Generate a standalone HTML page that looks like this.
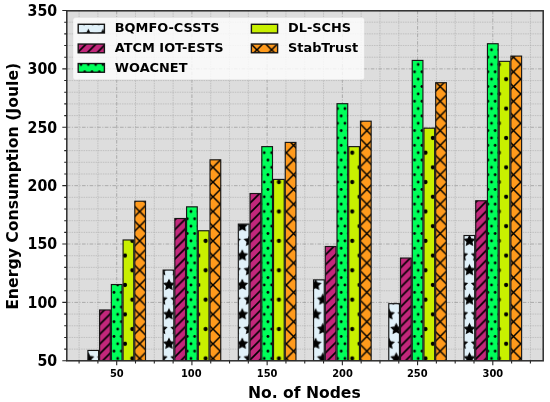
<!DOCTYPE html><html><head><meta charset="utf-8"><title>Energy Consumption</title>
<style>html,body{margin:0;padding:0;background:#fff}svg{display:block}text{font-family:"DejaVu Sans","Liberation Sans",sans-serif;font-weight:bold;fill:#000}</style></head><body>
<svg width="550" height="402" viewBox="0 0 550 402">
<defs>
<pattern id="h0" patternUnits="userSpaceOnUse" x="491.50" y="49.80" width="14.660" height="29.400"><path d="M0.00 -4.89 L-1.44 -1.98 L-4.65 -1.51 L-2.32 0.76 L-2.87 3.95 L-0.00 2.44 L2.87 3.95 L2.32 0.76 L4.65 -1.51 L1.44 -1.98Z" fill="#000" stroke="#000" stroke-width="1.3" stroke-linejoin="miter"/><path d="M14.66 -4.89 L13.22 -1.98 L10.01 -1.51 L12.34 0.76 L11.79 3.95 L14.66 2.44 L17.53 3.95 L16.98 0.76 L19.31 -1.51 L16.10 -1.98Z" fill="#000" stroke="#000" stroke-width="1.3" stroke-linejoin="miter"/><path d="M0.00 24.51 L-1.44 27.42 L-4.65 27.89 L-2.32 30.16 L-2.87 33.35 L-0.00 31.84 L2.87 33.35 L2.32 30.16 L4.65 27.89 L1.44 27.42Z" fill="#000" stroke="#000" stroke-width="1.3" stroke-linejoin="miter"/><path d="M14.66 24.51 L13.22 27.42 L10.01 27.89 L12.34 30.16 L11.79 33.35 L14.66 31.84 L17.53 33.35 L16.98 30.16 L19.31 27.89 L16.10 27.42Z" fill="#000" stroke="#000" stroke-width="1.3" stroke-linejoin="miter"/><path d="M7.33 9.81 L5.89 12.72 L2.68 13.19 L5.01 15.46 L4.46 18.65 L7.33 17.14 L10.20 18.65 L9.65 15.46 L11.98 13.19 L8.77 12.72Z" fill="#000" stroke="#000" stroke-width="1.3" stroke-linejoin="miter"/></pattern>
<pattern id="h1" patternUnits="userSpaceOnUse" x="491.50" y="49.20" width="9.773" height="9.800"><path d="M-9.773 9.800L9.773 -9.800M-9.773 19.600L19.547 -9.800M0 19.600L19.547 0" stroke="#000" stroke-width="1.65" fill="none"/></pattern>
<pattern id="h2" patternUnits="userSpaceOnUse" x="491.50" y="49.80" width="7.330" height="14.700"><circle cx="0.000" cy="0.000" r="1.38" fill="#000"/><circle cx="7.330" cy="0.000" r="1.38" fill="#000"/><circle cx="0.000" cy="14.700" r="1.38" fill="#000"/><circle cx="7.330" cy="14.700" r="1.38" fill="#000"/><circle cx="3.665" cy="7.350" r="1.38" fill="#000"/></pattern>
<pattern id="h3" patternUnits="userSpaceOnUse" x="491.50" y="49.80" width="14.660" height="29.400"><circle cx="0.000" cy="0.000" r="2.10" fill="#000"/><circle cx="14.660" cy="0.000" r="2.10" fill="#000"/><circle cx="0.000" cy="29.400" r="2.10" fill="#000"/><circle cx="14.660" cy="29.400" r="2.10" fill="#000"/><circle cx="7.330" cy="14.700" r="2.10" fill="#000"/></pattern>
<pattern id="h4" patternUnits="userSpaceOnUse" x="491.50" y="49.80" width="14.660" height="14.700"><path d="M-14.660 -14.700L29.320 29.400M-14.660 29.400L29.320 -14.700" stroke="#000" stroke-width="1.5" fill="none"/></pattern>
<clipPath id="ax"><rect x="66.8" y="10.8" width="476.40000000000003" height="350.0"/></clipPath>
</defs>
<rect width="550" height="402" fill="#fff"/>
<rect x="66.8" y="10.8" width="476.40000000000003" height="350.0" fill="#dddddd"/>
<g fill="none"><path d="M79.09 10.8V360.8" stroke="#adadad" stroke-width="0.6" stroke-dasharray="1.5 0.9"/><path d="M97.90 10.8V360.8" stroke="#adadad" stroke-width="0.6" stroke-dasharray="1.5 0.9"/><path d="M116.70 10.8V360.8" stroke="#8a8a8a" stroke-width="0.6" stroke-dasharray="3.6 1.5 1 1.5"/><path d="M135.50 10.8V360.8" stroke="#adadad" stroke-width="0.6" stroke-dasharray="1.5 0.9"/><path d="M154.31 10.8V360.8" stroke="#adadad" stroke-width="0.6" stroke-dasharray="1.5 0.9"/><path d="M173.12 10.8V360.8" stroke="#adadad" stroke-width="0.6" stroke-dasharray="1.5 0.9"/><path d="M191.92 10.8V360.8" stroke="#8a8a8a" stroke-width="0.6" stroke-dasharray="3.6 1.5 1 1.5"/><path d="M210.73 10.8V360.8" stroke="#adadad" stroke-width="0.6" stroke-dasharray="1.5 0.9"/><path d="M229.53 10.8V360.8" stroke="#adadad" stroke-width="0.6" stroke-dasharray="1.5 0.9"/><path d="M248.33 10.8V360.8" stroke="#adadad" stroke-width="0.6" stroke-dasharray="1.5 0.9"/><path d="M267.14 10.8V360.8" stroke="#8a8a8a" stroke-width="0.6" stroke-dasharray="3.6 1.5 1 1.5"/><path d="M285.94 10.8V360.8" stroke="#adadad" stroke-width="0.6" stroke-dasharray="1.5 0.9"/><path d="M304.75 10.8V360.8" stroke="#adadad" stroke-width="0.6" stroke-dasharray="1.5 0.9"/><path d="M323.56 10.8V360.8" stroke="#adadad" stroke-width="0.6" stroke-dasharray="1.5 0.9"/><path d="M342.36 10.8V360.8" stroke="#8a8a8a" stroke-width="0.6" stroke-dasharray="3.6 1.5 1 1.5"/><path d="M361.17 10.8V360.8" stroke="#adadad" stroke-width="0.6" stroke-dasharray="1.5 0.9"/><path d="M379.97 10.8V360.8" stroke="#adadad" stroke-width="0.6" stroke-dasharray="1.5 0.9"/><path d="M398.77 10.8V360.8" stroke="#adadad" stroke-width="0.6" stroke-dasharray="1.5 0.9"/><path d="M417.58 10.8V360.8" stroke="#8a8a8a" stroke-width="0.6" stroke-dasharray="3.6 1.5 1 1.5"/><path d="M436.38 10.8V360.8" stroke="#adadad" stroke-width="0.6" stroke-dasharray="1.5 0.9"/><path d="M455.19 10.8V360.8" stroke="#adadad" stroke-width="0.6" stroke-dasharray="1.5 0.9"/><path d="M474.00 10.8V360.8" stroke="#adadad" stroke-width="0.6" stroke-dasharray="1.5 0.9"/><path d="M492.80 10.8V360.8" stroke="#8a8a8a" stroke-width="0.6" stroke-dasharray="3.6 1.5 1 1.5"/><path d="M511.60 10.8V360.8" stroke="#adadad" stroke-width="0.6" stroke-dasharray="1.5 0.9"/><path d="M530.41 10.8V360.8" stroke="#adadad" stroke-width="0.6" stroke-dasharray="1.5 0.9"/><path d="M66.8 349.12H543.2" stroke="#adadad" stroke-width="0.6" stroke-dasharray="1.5 0.9"/><path d="M66.8 337.45H543.2" stroke="#adadad" stroke-width="0.6" stroke-dasharray="1.5 0.9"/><path d="M66.8 325.77H543.2" stroke="#adadad" stroke-width="0.6" stroke-dasharray="1.5 0.9"/><path d="M66.8 314.09H543.2" stroke="#adadad" stroke-width="0.6" stroke-dasharray="1.5 0.9"/><path d="M66.8 302.42H543.2" stroke="#8a8a8a" stroke-width="0.6" stroke-dasharray="3.6 1.5 1 1.5"/><path d="M66.8 290.74H543.2" stroke="#adadad" stroke-width="0.6" stroke-dasharray="1.5 0.9"/><path d="M66.8 279.06H543.2" stroke="#adadad" stroke-width="0.6" stroke-dasharray="1.5 0.9"/><path d="M66.8 267.39H543.2" stroke="#adadad" stroke-width="0.6" stroke-dasharray="1.5 0.9"/><path d="M66.8 255.71H543.2" stroke="#adadad" stroke-width="0.6" stroke-dasharray="1.5 0.9"/><path d="M66.8 244.03H543.2" stroke="#8a8a8a" stroke-width="0.6" stroke-dasharray="3.6 1.5 1 1.5"/><path d="M66.8 232.36H543.2" stroke="#adadad" stroke-width="0.6" stroke-dasharray="1.5 0.9"/><path d="M66.8 220.68H543.2" stroke="#adadad" stroke-width="0.6" stroke-dasharray="1.5 0.9"/><path d="M66.8 209.00H543.2" stroke="#adadad" stroke-width="0.6" stroke-dasharray="1.5 0.9"/><path d="M66.8 197.33H543.2" stroke="#adadad" stroke-width="0.6" stroke-dasharray="1.5 0.9"/><path d="M66.8 185.65H543.2" stroke="#8a8a8a" stroke-width="0.6" stroke-dasharray="3.6 1.5 1 1.5"/><path d="M66.8 173.97H543.2" stroke="#adadad" stroke-width="0.6" stroke-dasharray="1.5 0.9"/><path d="M66.8 162.30H543.2" stroke="#adadad" stroke-width="0.6" stroke-dasharray="1.5 0.9"/><path d="M66.8 150.62H543.2" stroke="#adadad" stroke-width="0.6" stroke-dasharray="1.5 0.9"/><path d="M66.8 138.94H543.2" stroke="#adadad" stroke-width="0.6" stroke-dasharray="1.5 0.9"/><path d="M66.8 127.27H543.2" stroke="#8a8a8a" stroke-width="0.6" stroke-dasharray="3.6 1.5 1 1.5"/><path d="M66.8 115.59H543.2" stroke="#adadad" stroke-width="0.6" stroke-dasharray="1.5 0.9"/><path d="M66.8 103.91H543.2" stroke="#adadad" stroke-width="0.6" stroke-dasharray="1.5 0.9"/><path d="M66.8 92.24H543.2" stroke="#adadad" stroke-width="0.6" stroke-dasharray="1.5 0.9"/><path d="M66.8 80.56H543.2" stroke="#adadad" stroke-width="0.6" stroke-dasharray="1.5 0.9"/><path d="M66.8 68.88H543.2" stroke="#8a8a8a" stroke-width="0.6" stroke-dasharray="3.6 1.5 1 1.5"/><path d="M66.8 57.21H543.2" stroke="#adadad" stroke-width="0.6" stroke-dasharray="1.5 0.9"/><path d="M66.8 45.53H543.2" stroke="#adadad" stroke-width="0.6" stroke-dasharray="1.5 0.9"/><path d="M66.8 33.85H543.2" stroke="#adadad" stroke-width="0.6" stroke-dasharray="1.5 0.9"/><path d="M66.8 22.18H543.2" stroke="#adadad" stroke-width="0.6" stroke-dasharray="1.5 0.9"/></g>
<g clip-path="url(#ax)"><rect x="87.89" y="350.45" width="10.7" height="10.35" fill="#e1f1f9"/><rect x="87.89" y="350.45" width="10.7" height="10.35" fill="url(#h0)"/><rect x="87.89" y="350.45" width="10.7" height="10.35" fill="none" stroke="#161616" stroke-width="1.15"/><rect x="99.62" y="309.97" width="10.7" height="50.83" fill="#c2277b"/><rect x="99.62" y="309.97" width="10.7" height="50.83" fill="url(#h1)"/><rect x="99.62" y="309.97" width="10.7" height="50.83" fill="none" stroke="#161616" stroke-width="1.15"/><rect x="111.35" y="284.53" width="10.7" height="76.27" fill="#00ff5a"/><rect x="111.35" y="284.53" width="10.7" height="76.27" fill="url(#h2)"/><rect x="111.35" y="284.53" width="10.7" height="76.27" fill="none" stroke="#161616" stroke-width="1.15"/><rect x="123.08" y="239.97" width="10.7" height="120.83" fill="#c8f000"/><rect x="123.08" y="239.97" width="10.7" height="120.83" fill="url(#h3)"/><rect x="123.08" y="239.97" width="10.7" height="120.83" fill="none" stroke="#161616" stroke-width="1.15"/><rect x="134.81" y="201.23" width="10.7" height="159.57" fill="#ff9a1c"/><rect x="134.81" y="201.23" width="10.7" height="159.57" fill="url(#h4)"/><rect x="134.81" y="201.23" width="10.7" height="159.57" fill="none" stroke="#161616" stroke-width="1.15"/><rect x="163.11" y="270.07" width="10.7" height="90.73" fill="#e1f1f9"/><rect x="163.11" y="270.07" width="10.7" height="90.73" fill="url(#h0)"/><rect x="163.11" y="270.07" width="10.7" height="90.73" fill="none" stroke="#161616" stroke-width="1.15"/><rect x="174.84" y="218.50" width="10.7" height="142.30" fill="#c2277b"/><rect x="174.84" y="218.50" width="10.7" height="142.30" fill="url(#h1)"/><rect x="174.84" y="218.50" width="10.7" height="142.30" fill="none" stroke="#161616" stroke-width="1.15"/><rect x="186.57" y="206.83" width="10.7" height="153.97" fill="#00ff5a"/><rect x="186.57" y="206.83" width="10.7" height="153.97" fill="url(#h2)"/><rect x="186.57" y="206.83" width="10.7" height="153.97" fill="none" stroke="#161616" stroke-width="1.15"/><rect x="198.30" y="230.75" width="10.7" height="130.05" fill="#c8f000"/><rect x="198.30" y="230.75" width="10.7" height="130.05" fill="url(#h3)"/><rect x="198.30" y="230.75" width="10.7" height="130.05" fill="none" stroke="#161616" stroke-width="1.15"/><rect x="210.03" y="159.82" width="10.7" height="200.98" fill="#ff9a1c"/><rect x="210.03" y="159.82" width="10.7" height="200.98" fill="url(#h4)"/><rect x="210.03" y="159.82" width="10.7" height="200.98" fill="none" stroke="#161616" stroke-width="1.15"/><rect x="238.33" y="224.10" width="10.7" height="136.70" fill="#e1f1f9"/><rect x="238.33" y="224.10" width="10.7" height="136.70" fill="url(#h0)"/><rect x="238.33" y="224.10" width="10.7" height="136.70" fill="none" stroke="#161616" stroke-width="1.15"/><rect x="250.06" y="193.53" width="10.7" height="167.27" fill="#c2277b"/><rect x="250.06" y="193.53" width="10.7" height="167.27" fill="url(#h1)"/><rect x="250.06" y="193.53" width="10.7" height="167.27" fill="none" stroke="#161616" stroke-width="1.15"/><rect x="261.79" y="146.63" width="10.7" height="214.17" fill="#00ff5a"/><rect x="261.79" y="146.63" width="10.7" height="214.17" fill="url(#h2)"/><rect x="261.79" y="146.63" width="10.7" height="214.17" fill="none" stroke="#161616" stroke-width="1.15"/><rect x="273.52" y="179.42" width="10.7" height="181.38" fill="#c8f000"/><rect x="273.52" y="179.42" width="10.7" height="181.38" fill="url(#h3)"/><rect x="273.52" y="179.42" width="10.7" height="181.38" fill="none" stroke="#161616" stroke-width="1.15"/><rect x="285.25" y="142.43" width="10.7" height="218.37" fill="#ff9a1c"/><rect x="285.25" y="142.43" width="10.7" height="218.37" fill="url(#h4)"/><rect x="285.25" y="142.43" width="10.7" height="218.37" fill="none" stroke="#161616" stroke-width="1.15"/><rect x="313.55" y="279.87" width="10.7" height="80.93" fill="#e1f1f9"/><rect x="313.55" y="279.87" width="10.7" height="80.93" fill="url(#h0)"/><rect x="313.55" y="279.87" width="10.7" height="80.93" fill="none" stroke="#161616" stroke-width="1.15"/><rect x="325.28" y="246.50" width="10.7" height="114.30" fill="#c2277b"/><rect x="325.28" y="246.50" width="10.7" height="114.30" fill="url(#h1)"/><rect x="325.28" y="246.50" width="10.7" height="114.30" fill="none" stroke="#161616" stroke-width="1.15"/><rect x="337.01" y="103.70" width="10.7" height="257.10" fill="#00ff5a"/><rect x="337.01" y="103.70" width="10.7" height="257.10" fill="url(#h2)"/><rect x="337.01" y="103.70" width="10.7" height="257.10" fill="none" stroke="#161616" stroke-width="1.15"/><rect x="348.74" y="146.63" width="10.7" height="214.17" fill="#c8f000"/><rect x="348.74" y="146.63" width="10.7" height="214.17" fill="url(#h3)"/><rect x="348.74" y="146.63" width="10.7" height="214.17" fill="none" stroke="#161616" stroke-width="1.15"/><rect x="360.47" y="121.20" width="10.7" height="239.60" fill="#ff9a1c"/><rect x="360.47" y="121.20" width="10.7" height="239.60" fill="url(#h4)"/><rect x="360.47" y="121.20" width="10.7" height="239.60" fill="none" stroke="#161616" stroke-width="1.15"/><rect x="388.77" y="303.67" width="10.7" height="57.13" fill="#e1f1f9"/><rect x="388.77" y="303.67" width="10.7" height="57.13" fill="url(#h0)"/><rect x="388.77" y="303.67" width="10.7" height="57.13" fill="none" stroke="#161616" stroke-width="1.15"/><rect x="400.50" y="258.05" width="10.7" height="102.75" fill="#c2277b"/><rect x="400.50" y="258.05" width="10.7" height="102.75" fill="url(#h1)"/><rect x="400.50" y="258.05" width="10.7" height="102.75" fill="none" stroke="#161616" stroke-width="1.15"/><rect x="412.23" y="60.42" width="10.7" height="300.38" fill="#00ff5a"/><rect x="412.23" y="60.42" width="10.7" height="300.38" fill="url(#h2)"/><rect x="412.23" y="60.42" width="10.7" height="300.38" fill="none" stroke="#161616" stroke-width="1.15"/><rect x="423.96" y="128.20" width="10.7" height="232.60" fill="#c8f000"/><rect x="423.96" y="128.20" width="10.7" height="232.60" fill="url(#h3)"/><rect x="423.96" y="128.20" width="10.7" height="232.60" fill="none" stroke="#161616" stroke-width="1.15"/><rect x="435.69" y="82.70" width="10.7" height="278.10" fill="#ff9a1c"/><rect x="435.69" y="82.70" width="10.7" height="278.10" fill="url(#h4)"/><rect x="435.69" y="82.70" width="10.7" height="278.10" fill="none" stroke="#161616" stroke-width="1.15"/><rect x="463.99" y="235.53" width="10.7" height="125.27" fill="#e1f1f9"/><rect x="463.99" y="235.53" width="10.7" height="125.27" fill="url(#h0)"/><rect x="463.99" y="235.53" width="10.7" height="125.27" fill="none" stroke="#161616" stroke-width="1.15"/><rect x="475.72" y="200.77" width="10.7" height="160.03" fill="#c2277b"/><rect x="475.72" y="200.77" width="10.7" height="160.03" fill="url(#h1)"/><rect x="475.72" y="200.77" width="10.7" height="160.03" fill="none" stroke="#161616" stroke-width="1.15"/><rect x="487.45" y="43.73" width="10.7" height="317.07" fill="#00ff5a"/><rect x="487.45" y="43.73" width="10.7" height="317.07" fill="url(#h2)"/><rect x="487.45" y="43.73" width="10.7" height="317.07" fill="none" stroke="#161616" stroke-width="1.15"/><rect x="499.18" y="61.35" width="10.7" height="299.45" fill="#c8f000"/><rect x="499.18" y="61.35" width="10.7" height="299.45" fill="url(#h3)"/><rect x="499.18" y="61.35" width="10.7" height="299.45" fill="none" stroke="#161616" stroke-width="1.15"/><rect x="510.91" y="56.10" width="10.7" height="304.70" fill="#ff9a1c"/><rect x="510.91" y="56.10" width="10.7" height="304.70" fill="url(#h4)"/><rect x="510.91" y="56.10" width="10.7" height="304.70" fill="none" stroke="#161616" stroke-width="1.15"/></g>
<rect x="73.1" y="17.6" width="291.2" height="62.1" rx="2.5" fill="#fff" fill-opacity="0.8" stroke="#ccc" stroke-opacity="0.25" stroke-width="0.8"/>
<rect x="78.2" y="24.30" width="26.2" height="8.7" fill="#e1f1f9"/>
<rect x="78.2" y="24.30" width="26.2" height="8.7" fill="url(#h0)"/>
<rect x="78.2" y="24.30" width="26.2" height="8.7" fill="none" stroke="#161616" stroke-width="1.4"/>
<text x="114.8" y="32.10" font-size="12.9">BQMFO-CSSTS</text>
<rect x="78.2" y="44.05" width="26.2" height="8.7" fill="#c2277b"/>
<rect x="78.2" y="44.05" width="26.2" height="8.7" fill="url(#h1)"/>
<rect x="78.2" y="44.05" width="26.2" height="8.7" fill="none" stroke="#161616" stroke-width="1.4"/>
<text x="114.8" y="52.40" font-size="12.9">ATCM IOT-ESTS</text>
<rect x="78.2" y="63.55" width="26.2" height="8.7" fill="#00ff5a"/>
<rect x="78.2" y="63.55" width="26.2" height="8.7" fill="url(#h2)"/>
<rect x="78.2" y="63.55" width="26.2" height="8.7" fill="none" stroke="#161616" stroke-width="1.4"/>
<text x="114.8" y="71.80" font-size="12.9">WOACNET</text>
<rect x="251.4" y="24.30" width="26.2" height="8.7" fill="#c8f000"/>
<rect x="251.4" y="24.30" width="26.2" height="8.7" fill="url(#h3)"/>
<rect x="251.4" y="24.30" width="26.2" height="8.7" fill="none" stroke="#161616" stroke-width="1.4"/>
<text x="288.0" y="32.10" font-size="12.9">DL-SCHS</text>
<rect x="251.4" y="44.05" width="26.2" height="8.7" fill="#ff9a1c"/>
<rect x="251.4" y="44.05" width="26.2" height="8.7" fill="url(#h4)"/>
<rect x="251.4" y="44.05" width="26.2" height="8.7" fill="none" stroke="#161616" stroke-width="1.4"/>
<text x="288.0" y="52.40" font-size="12.9">StabTrust</text>
<rect x="66.8" y="10.8" width="476.40000000000003" height="350.0" fill="none" stroke="#2c2c2c" stroke-width="1.5"/>
<path d="M79.09 360.8v2.6M97.90 360.8v2.6M116.70 360.8v4.5M135.50 360.8v2.6M154.31 360.8v2.6M173.12 360.8v2.6M191.92 360.8v4.5M210.73 360.8v2.6M229.53 360.8v2.6M248.33 360.8v2.6M267.14 360.8v4.5M285.94 360.8v2.6M304.75 360.8v2.6M323.56 360.8v2.6M342.36 360.8v4.5M361.17 360.8v2.6M379.97 360.8v2.6M398.77 360.8v2.6M417.58 360.8v4.5M436.38 360.8v2.6M455.19 360.8v2.6M474.00 360.8v2.6M492.80 360.8v4.5M511.60 360.8v2.6M530.41 360.8v2.6M66.8 360.80h-4.5M66.8 349.12h-2.6M66.8 337.45h-2.6M66.8 325.77h-2.6M66.8 314.09h-2.6M66.8 302.42h-4.5M66.8 290.74h-2.6M66.8 279.06h-2.6M66.8 267.39h-2.6M66.8 255.71h-2.6M66.8 244.03h-4.5M66.8 232.36h-2.6M66.8 220.68h-2.6M66.8 209.00h-2.6M66.8 197.33h-2.6M66.8 185.65h-4.5M66.8 173.97h-2.6M66.8 162.30h-2.6M66.8 150.62h-2.6M66.8 138.94h-2.6M66.8 127.27h-4.5M66.8 115.59h-2.6M66.8 103.91h-2.6M66.8 92.24h-2.6M66.8 80.56h-2.6M66.8 68.88h-4.5M66.8 57.21h-2.6M66.8 45.53h-2.6M66.8 33.85h-2.6M66.8 22.18h-2.6M66.8 10.50h-4.5" stroke="#262626" stroke-width="1.1" fill="none"/>
<text x="116.80" y="377.3" font-size="9.9" text-anchor="middle">50</text>
<text x="191.32" y="377.3" font-size="9.9" text-anchor="middle">100</text>
<text x="267.14" y="377.3" font-size="9.9" text-anchor="middle">150</text>
<text x="342.46" y="377.3" font-size="9.9" text-anchor="middle">200</text>
<text x="417.28" y="377.3" font-size="9.9" text-anchor="middle">250</text>
<text x="492.90" y="377.3" font-size="9.9" text-anchor="middle">300</text>
<text transform="translate(57.2 360.60) scale(1 1.09)" y="5.17" font-size="14.2" text-anchor="end">50</text>
<text transform="translate(57.2 302.22) scale(1 1.09)" y="5.17" font-size="14.2" text-anchor="end">100</text>
<text transform="translate(57.2 243.83) scale(1 1.09)" y="5.17" font-size="14.2" text-anchor="end">150</text>
<text transform="translate(57.2 185.45) scale(1 1.09)" y="5.17" font-size="14.2" text-anchor="end">200</text>
<text transform="translate(57.2 127.07) scale(1 1.09)" y="5.17" font-size="14.2" text-anchor="end">250</text>
<text transform="translate(57.2 68.68) scale(1 1.09)" y="5.17" font-size="14.2" text-anchor="end">300</text>
<text transform="translate(57.2 10.30) scale(1 1.09)" y="5.17" font-size="14.2" text-anchor="end">350</text>
<text x="304.3" y="397.9" font-size="15.6" text-anchor="middle">No. of Nodes</text>
<text transform="translate(17.6 186.3) rotate(-90)" font-size="15.7" text-anchor="middle">Energy Consumption (Joule)</text>
</svg></body></html>
